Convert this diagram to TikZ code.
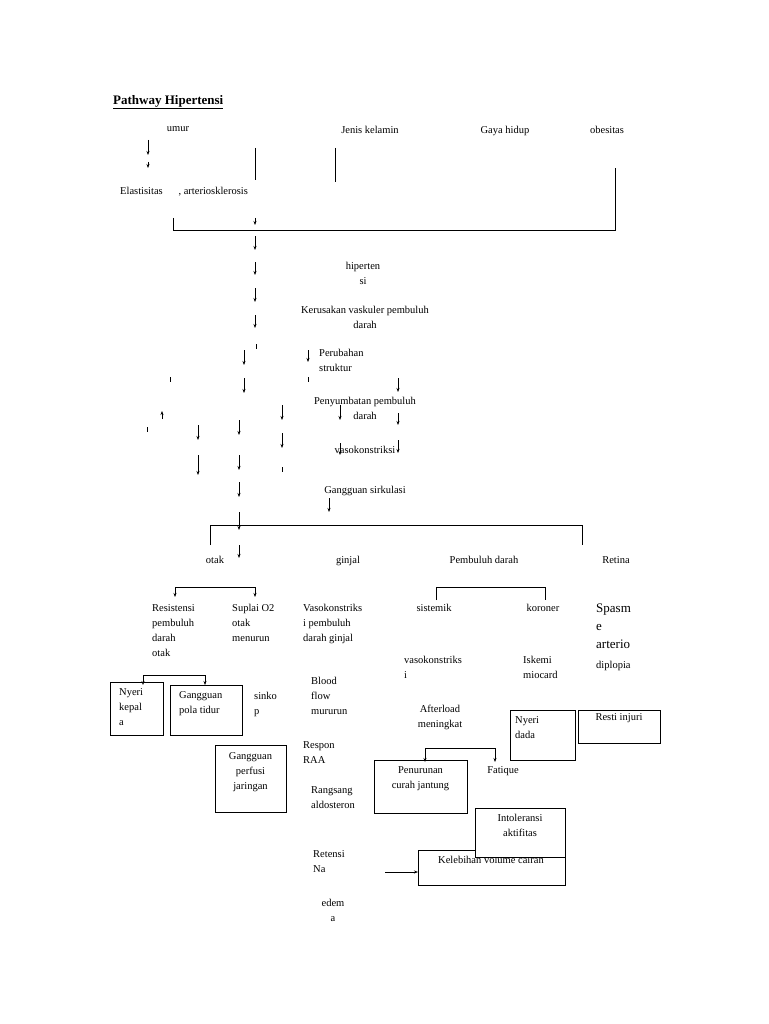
\documentclass[tikz,border=0pt]{standalone}
\usepackage{fontspec}
\usetikzlibrary{arrows.meta}
\setmainfont{Liberation Serif}
\newcommand{\bigf}{\fontsize{13}{18}\selectfont}
\begin{document}
\begin{tikzpicture}[x=1pt,y=-1pt,
 t/.style={font=\fontsize{10.5}{15}\selectfont,inner sep=0pt,align=left,anchor=north west},
 tc/.style={font=\fontsize{10.5}{15}\selectfont,inner sep=0pt,align=center,anchor=north},
 bx/.style={draw,thick,inner sep=0pt,anchor=north west},
 arr/.style={-{Stealth[length=4pt,width=3pt]},line width=0.6pt},
 ln/.style={line width=0.7pt}]
\useasboundingbox (0,0) rectangle (768,1024);
\fill[white] (0,0) rectangle (768,1024);
\node[t,font=\bfseries\fontsize{13}{15}\selectfont] (title) at (113,95) {\underline{Pathway Hipertensi}};
\node[tc] (umur) at (178,126) {umur};
\node[tc] (jk) at (370,126) {Jenis kelamin};
\node[tc] (gh) at (505,126) {Gaya hidup};
\node[tc] (ob) at (607,126) {obesitas};
\node[t] (el) at (120,187) {Elastisitas\quad\ \ , arteriosklerosis};
\node[tc] (hip) at (363,262) {hiperten\\si};
\node[tc] (ker) at (365,306) {Kerusakan vaskuler pembuluh\\darah};
\node[t] (per) at (319,349) {Perubahan\\struktur};
\node[tc] (pen) at (365,397) {Penyumbatan pembuluh\\darah};
\node[tc] (vas) at (365,446) {vasokonstriksi};
\node[tc] (gs) at (365,486) {Gangguan sirkulasi};
\node[tc] (otak) at (215,556) {otak};
\node[tc] (ginjal) at (348,556) {ginjal};
\node[tc] (pd) at (484,556) {Pembuluh darah};
\node[tc] (ret) at (616,556) {Retina};
\node[t] (res) at (152,604) {Resistensi\\pembuluh\\darah\\otak};
\node[t] (sup) at (232,604) {Suplai O2\\otak\\menurun};
\node[t] (vk) at (303,604) {Vasokonstriks\\i pembuluh\\darah ginjal};
\node[tc] (sis) at (434,604) {sistemik};
\node[tc] (kor) at (543,604) {koroner};
\node[t,font=\bigf] (sp) at (596,604) {Spasm\\e\\arterio};
\node[t] (dip) at (596,661) {diplopia};
\node[t] (vk2) at (404,656) {vasokonstriks\\i};
\node[t] (isk) at (523,656) {Iskemi\\miocard};
\node[t] (bf) at (311,677) {Blood\\flow\\mururun};
\node[t] (sin) at (254,692) {sinko\\p};
\node[tc] (aft) at (440,705) {Afterload\\meningkat};
\node[t] (rr) at (303,741) {Respon\\RAA};
\node[tc] (fat) at (503,766) {Fatique};
\node[t] (ra) at (311,786) {Rangsang\\aldosteron};
\node[t] (rn) at (313,850) {Retensi\\Na};
\node[tc] (ed) at (333,899) {edem\\a};
% boxes
\node[bx,minimum width=53,minimum height=53] (nk) at (110,682) {};
\node[t] at (119,688) {Nyeri\\kepal\\a};
\node[bx,minimum width=72,minimum height=50] (gpt) at (170,685) {};
\node[t] at (179,691) {Gangguan\\pola tidur};
\node[bx,minimum width=71,minimum height=67] (gpj) at (215,745) {};
\node[tc] at (250.5,752) {Gangguan\\perfusi\\jaringan};
\node[bx,minimum width=65,minimum height=50] (nd) at (510,710) {};
\node[t] at (515,716) {Nyeri\\dada};
\node[bx,minimum width=82,minimum height=33] (ri) at (578,710) {};
\node[tc] at (619,713) {Resti injuri};
\node[bx,minimum width=93,minimum height=53] (pcj) at (374,760) {};
\node[tc] at (420.5,766) {Penurunan\\curah jantung};
\node[bx,minimum width=147,minimum height=35] (kvc) at (418,850) {};
\node[tc] at (491,856) {Kelebihan volume cairan};
\node[bx,fill=white,minimum width=90,minimum height=49] (ia) at (475,808) {};
\node[tc] at (520,814) {Intoleransi\\aktifitas};
\coordinate (rnE) at (385,872);
\draw[arr] (rnE) -- (kvc.west|-rnE);
% lines
\draw[ln] (255,148) -- (255,180);
\draw[ln] (335,148) -- (335,182);
\draw[ln] (173,218) -- (173,230) -- (615,230) -- (615,168);
\draw[ln] (210,545) -- (210,525) -- (582,525) -- (582,545);
\draw[ln] (175,587) -- (255,587);
\draw[ln] (436,600) -- (436,587) -- (545,587) -- (545,600);
\draw[ln] (143,675) -- (205,675);
\draw[ln] (425,748) -- (495,748);
\foreach \x/\a/\b in {175/587/597,255/587/597,143/675/685,205/675/685,425/748/762,495/748/762}
 \draw[arr] (\x,\a) -- (\x,\b);
% stray arrows
\foreach \x/\a/\b in {148/140/155,148/162/168,255/218/225,255/236/250,255/262/275,255/288/302,255/315/328,
 244/350/365,244/378/393,308/350/362,398/378/392,198/425/440,198/455/475,239/420/435,239/455/470,239/482/497,
 282/405/420,282/433/448,340/405/420,340/443/455,398/413/425,398/440/453,329/498/512,239/512/530,239/545/558}
 \draw[arr] (\x,\a) -- (\x,\b);
\draw[arr] (162,419) -- (162,411);
\foreach \x/\a in {256/344,170/377,308/377,147/427,282/467}
 \draw[line width=0.6pt] (\x,\a) -- (\x,\a+5);
\end{tikzpicture}
\end{document}
